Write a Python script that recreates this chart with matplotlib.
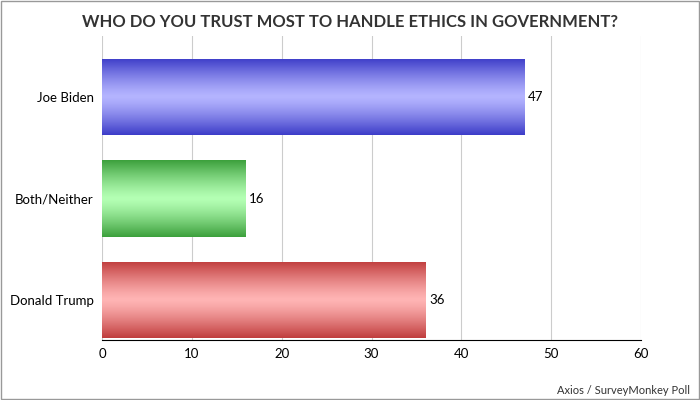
import matplotlib
matplotlib.use("Agg")
import matplotlib.pyplot as plt
import numpy as np
from matplotlib.colors import LinearSegmentedColormap

plt.rcParams['font.family'] = ['Lato', 'DejaVu Sans']

categories = ["Joe Biden", "Both/Neither", "Donald Trump"]
values = [47, 16, 36]
dark = ["#3c3cc8", "#3ca03c", "#c03c3c"]
light = ["#b4b4ff", "#b4ffb4", "#ffb4b4"]
xticks = [0, 10, 20, 30, 40, 50, 60]

fig = plt.figure(figsize=(7, 4), dpi=100)
ax = fig.add_axes([102/700, 60/400, 539/700, 304.5/400])
ax.set_xticks(xticks)
ax.set_yticks(range(len(categories)))
ax.set_yticklabels(categories)
ax.tick_params(axis='both', length=0, labelsize=9.5, pad=6)
ax.grid(axis='x', color='#cccccc', lw=0.8)
ax.set_axisbelow(True)
for s in ['top', 'right', 'left']:
    ax.spines[s].set_visible(False)
ax.spines['bottom'].set_color('#000000')

h = 0.75
bars = ax.barh(range(len(categories)), values, height=h, color='none')
grad = np.abs(np.linspace(-1, 1, 256)) ** 1.3
for i, (b, v) in enumerate(zip(bars, values)):
    cmap = LinearSegmentedColormap.from_list('g', [light[i], dark[i]])
    im = ax.imshow(grad[:, None], cmap=cmap, aspect='auto',
                   extent=[0, v, i + h/2, i - h/2], zorder=2, vmin=0, vmax=1)
    im.set_clip_path(b)
    ax.text(v + 0.4, i, str(v), va='center', ha='left', fontsize=9.5)
ax.set_xlim(0, 60)
ax.set_ylim(2.394, -0.606)

fig.text(0.5, 378/400, "WHO DO YOU TRUST MOST TO HANDLE ETHICS IN GOVERNMENT?",
         ha='center', va='center', fontsize=12, fontweight='bold', color='#333333')
fig.text(690/700, 9/400, "Axios / SurveyMonkey Poll", ha='right', va='center',
         fontsize=8, color='#333333')
fig.patches.append(plt.Rectangle((0.001, 0.002), 0.997, 0.996, transform=fig.transFigure,
                                 fill=False, edgecolor='#999999', lw=1))
fig.savefig("out.png", dpi=100)
